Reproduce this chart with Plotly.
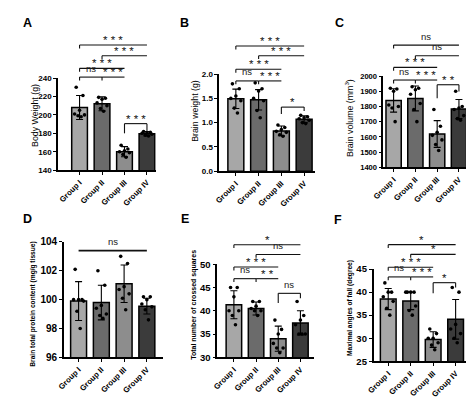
import plotly.graph_objects as go

W, H = 474, 399
FONT = "Arial, Liberation Sans, sans-serif"

groups = ["Group I", "Group II", "Group III", "Group IV"]
bar_colors = ["#a7a7a7", "#6b6b6b", "#8d8d8d", "#3b3b3b"]

# ---- A: body weight (g)
bw_mean = [208, 212, 160, 179.5]
bw_sd = [13, 7.5, 5.5, 2.5]
bw_pts = [[230, 221, 205, 201, 200, 199, 198],
          [219, 218, 217, 213, 210, 207, 204],
          [167, 163, 161, 160, 159, 157, 154],
          [182, 181, 181, 180, 179, 178, 177]]
bw_sig = [(0, 3, 275.8, "***"), (1, 3, 264.2, "***"), (0, 2, 250.5, "***"),
          (0, 1, 241, "ns"), (1, 2, 241, "***"), (2, 3, 190.5, "***")]

# ---- B: brain weight (g)
brw_mean = [1.49, 1.47, 0.83, 1.07]
brw_sd = [0.20, 0.21, 0.10, 0.07]
brw_pts = [[1.80, 1.70, 1.55, 1.50, 1.45, 1.30, 1.20],
           [1.82, 1.70, 1.65, 1.50, 1.45, 1.25, 1.10],
           [0.95, 0.90, 0.86, 0.82, 0.80, 0.75, 0.72],
           [1.15, 1.12, 1.10, 1.08, 1.05, 1.00, 0.98]]
brw_sig = [(0, 3, 2.58, "***"), (1, 3, 2.38, "***"), (0, 2, 2.10, "***"),
           (0, 1, 1.86, "ns"), (1, 2, 1.86, "***"), (2, 3, 1.32, "*")]

# ---- C: brain volume (mm3)
bv_mean = [1840, 1853, 1619, 1783]
bv_sd = [77, 82, 88, 63]
bv_pts = [[1920, 1915, 1900, 1810, 1800, 1790, 1700],
          [1930, 1920, 1910, 1880, 1820, 1780, 1700],
          [1780, 1670, 1630, 1610, 1580, 1550, 1510],
          [1900, 1800, 1790, 1780, 1740, 1720, 1710]]
bv_sig = [(0, 3, 2204, "ns"), (1, 3, 2134, "ns"), (0, 2, 2057, "***"),
          (0, 1, 1974, "ns"), (1, 2, 1974, "***"), (2, 3, 1943, "**")]

# ---- D: brain total protein content
bp_mean = [99.9, 99.8, 101.1, 99.55]
bp_sd = [1.35, 1.2, 1.3, 0.55]
bp_pts = [[102.1, 100.0, 100.0, 100.0, 99.9, 99.2, 98.0],
          [102.0, 101.0, 99.6, 99.4, 99.0, 98.9, 98.7],
          [103.0, 102.5, 100.9, 100.7, 100.4, 100.1, 99.3],
          [100.2, 100.2, 100.0, 99.7, 99.5, 99.3, 98.6]]
bp_sig = [(0, 3, 103.4, "ns")]

# ---- E: total number of crossed squares
cs_mean = [41.3, 40.5, 34.0, 37.4]
cs_sd = [3.0, 1.4, 2.7, 2.6]
cs_pts = [[45, 45, 43, 40, 40, 39, 37],
          [42, 42, 41, 40.5, 40, 40, 39],
          [38, 36, 35, 33, 32, 32, 31],
          [42, 39, 38, 37, 35, 35, 35]]
cs_sig = [(0, 3, 54.2, "*"), (1, 3, 52.1, "ns"), (0, 2, 49.4, "***"),
          (0, 1, 46.9, "ns"), (1, 2, 46.9, "**"), (2, 3, 43.75, "ns")]

# ---- F: maximal angles of fall (degree)
af_mean = [38.5, 38.1, 29.7, 34.1]
af_sd = [2.3, 1.9, 1.7, 4.3]
af_pts = [[42, 40, 40, 39, 38, 36.5, 35],
          [40, 40, 40, 40, 37, 36, 35],
          [32, 31, 30, 30, 29, 28.5, 27.5],
          [41, 40, 33, 32, 31, 30, 29]]
af_sig = [(0, 3, 50.3, "*"), (1, 3, 48.2, "*"), (0, 2, 45.4, "***"),
          (0, 1, 43.3, "ns"), (1, 2, 43.3, "***"), (2, 3, 42.05, "*")]

# layout of each panel in pixels (axis box, category centre, spacing)
panels = [
    dict(letter="A", mean=bw_mean, sd=bw_sd, pts=bw_pts, sig=bw_sig,
         title="Body Weight (g)", tsize=8.8, tbold=False, yr=(140, 240), dtick=20,
         px=(40, 140), py=(66, 161), c0=62, sp=23, tx=16.5, ty=105,
         lx=9, ly=9, tickfs=8, ticklens=(10, 7)),
    dict(letter="B", mean=brw_mean, sd=brw_sd, pts=brw_pts, sig=brw_sig,
         title="Brain weight (g)", tsize=8.8, tbold=False, yr=(0, 2.0), dtick=0.5,
         px=(205, 303), py=(62, 162), c0=222, sp=23.3, tx=180, ty=100,
         lx=169, ly=9, tickfs=8, ticklens=(7, 4), tformat=".1f"),
    dict(letter="C", mean=bv_mean, sd=bv_sd, pts=bv_pts, sig=bv_sig,
         title="Brain volume (mm<sup>3</sup>)", tsize=8.8, tbold=False, yr=(1400, 2000), dtick=100,
         px=(373, 458), py=(64, 158), c0=383.5, sp=22.3, tx=338, ty=107,
         lx=328, ly=9, tickfs=7.6, ticklens=(14, 7)),
    dict(letter="D", mean=bp_mean, sd=bp_sd, pts=bp_pts, sig=bp_sig,
         title="Brain total protein content (mg/g tissue)", tsize=6.6, tbold=True, yr=(96, 104), dtick=2,
         px=(46, 147), py=(235, 354), c0=61, sp=23.3, tx=14, ty=299,
         lx=9, ly=211, tickfs=10, ticklens=(0, 0)),
    dict(letter="E", mean=cs_mean, sd=cs_sd, pts=cs_pts, sig=cs_sig,
         title="Total number of crossed squares", tsize=7, tbold=True, yr=(30, 50), dtick=5,
         px=(203, 302), py=(258, 354), c0=220, sp=22.7, tx=179, ty=300,
         lx=170, ly=211, tickfs=9.5, ticklens=(10, 5)),
    dict(letter="F", mean=af_mean, sd=af_sd, pts=af_pts, sig=af_sig,
         title="Maximal angles of fall (degree)", tsize=6.6, tbold=True, yr=(25, 45), dtick=5,
         px=(363, 458), py=(263, 358), c0=378, sp=23, tx=339, ty=303,
         lx=327, ly=212, tickfs=9.5, ticklens=(11, 5)),
]

jitter = [-0.15, 0.15, 0.0, -0.22, 0.22, -0.07, 0.07]

fig = go.Figure()
shapes, annotations = [], []
TICK = 3.5  # bracket end tick length (px)


def pix(p, xv, yv):
    """data -> pixel for panel p (same mapping as the axes)."""
    X = p["c0"] + xv * p["sp"]
    y0, y1 = p["yr"]
    Y = p["py"][1] - (yv - y0) / (y1 - y0) * (p["py"][1] - p["py"][0])
    return X, Y


def paper(X, Y):
    return X / W, 1 - Y / H


def line(X0, Y0, X1, Y1, w=1.1):
    a, b = paper(X0, Y0)
    c, d = paper(X1, Y1)
    shapes.append(dict(type="line", xref="paper", yref="paper", x0=a, y0=b, x1=c, y1=d,
                       line=dict(color="#111", width=w)))


for i, p in enumerate(panels, start=1):
    xa = "x" if i == 1 else f"x{i}"
    ya = "y" if i == 1 else f"y{i}"
    fig.add_trace(go.Bar(
        x=[0, 1, 2, 3], y=p["mean"], width=0.7,
        marker=dict(color=bar_colors, line=dict(color="black", width=1.5)),
        error_y=dict(type="data", array=p["sd"], visible=True, color="black",
                     thickness=1.1, width=3.5),
        xaxis=xa, yaxis=ya, showlegend=False, hoverinfo="skip"))
    xs, ys = [], []
    for g, vals in enumerate(p["pts"]):
        for k, v in enumerate(vals):
            xs.append(g + jitter[k % len(jitter)])
            ys.append(v)
    fig.add_trace(go.Scatter(x=xs, y=ys, mode="markers",
                             marker=dict(color="black", size=3.6),
                             xaxis=xa, yaxis=ya, showlegend=False, hoverinfo="skip"))

    xr0 = (p["px"][0] - p["c0"]) / p["sp"]
    xr1 = (p["px"][1] - p["c0"]) / p["sp"]
    sfx = "" if i == 1 else str(i)
    fig.layout["xaxis" + sfx] = dict(
        domain=[p["px"][0] / W, p["px"][1] / W], range=[xr0, xr1], anchor=ya,
        tickvals=[0, 1, 2, 3], ticktext=groups, tickangle=-45,
        tickfont=dict(family=FONT, size=7.8, color="black", weight="bold"),
        showline=True, linecolor="black", linewidth=1.5, ticks="outside",
        ticklen=3, tickwidth=1.2, tickcolor="black", showgrid=False, zeroline=False,
        fixedrange=True)
    fig.layout["yaxis" + sfx] = dict(
        domain=[1 - p["py"][1] / H, 1 - p["py"][0] / H], range=list(p["yr"]), anchor=xa,
        dtick=p["dtick"], tick0=p["yr"][0], tickformat=p.get("tformat", ""),
        tickfont=dict(family=FONT, size=p["tickfs"], color="black", weight="bold"),
        showline=True, linecolor="black", linewidth=1.5, ticks="outside",
        ticklen=3, tickwidth=1.2, tickcolor="black", showgrid=False, zeroline=False,
        fixedrange=True)

    # y-axis title
    tx, ty = paper(p["tx"], p["ty"])
    annotations.append(dict(xref="paper", yref="paper", x=tx, y=ty, text=p["title"],
                            textangle=-90, showarrow=False, xanchor="center", yanchor="middle",
                            font=dict(family=FONT, size=p["tsize"], color="black",
                                      weight="bold" if p["tbold"] else "normal")))
    # panel letter
    lx, ly = paper(p["lx"], p["ly"])
    annotations.append(dict(xref="paper", yref="paper", x=lx, y=ly, text=p["letter"],
                            showarrow=False, xanchor="center", yanchor="middle",
                            font=dict(family=FONT, size=12.5, color="black", weight="bold")))

    # significance brackets
    for (g0, g1, yv, lab) in p["sig"]:
        X0, Y = pix(p, g0, yv)
        X1, _ = pix(p, g1, yv)
        if p["letter"] == "D":
            line(X0, Y, X1, Y, w=1.8)
        else:
            line(X0, Y, X1, Y)
            if g0 == 2 and g1 == 3:
                tl, tr = p["ticklens"]
                line(X0, Y, X0, Y + tl)
                line(X1, Y, X1, Y + tr)
            else:
                line(X0, Y, X0, Y + TICK)
        cx, cy = paper((X0 + X1) / 2, Y)
        if lab == "ns":
            annotations.append(dict(xref="paper", yref="paper", x=cx, y=cy, text="ns",
                                    showarrow=False, xanchor="center", yanchor="bottom",
                                    yshift=1.5, font=dict(family=FONT, size=9.5, color="#222")))
        else:
            annotations.append(dict(xref="paper", yref="paper", x=cx, y=cy,
                                    text=" ".join(lab), showarrow=False, xanchor="center",
                                    yanchor="bottom", yshift=-3,
                                    font=dict(family=FONT, size=11.5, color="#111")))

fig.update_layout(width=W, height=H, margin=dict(l=0, r=0, t=0, b=0),
                  paper_bgcolor="white", plot_bgcolor="white",
                  shapes=shapes, annotations=annotations, bargap=0.3,
                  font=dict(family=FONT))
fig.write_html("out.html")
